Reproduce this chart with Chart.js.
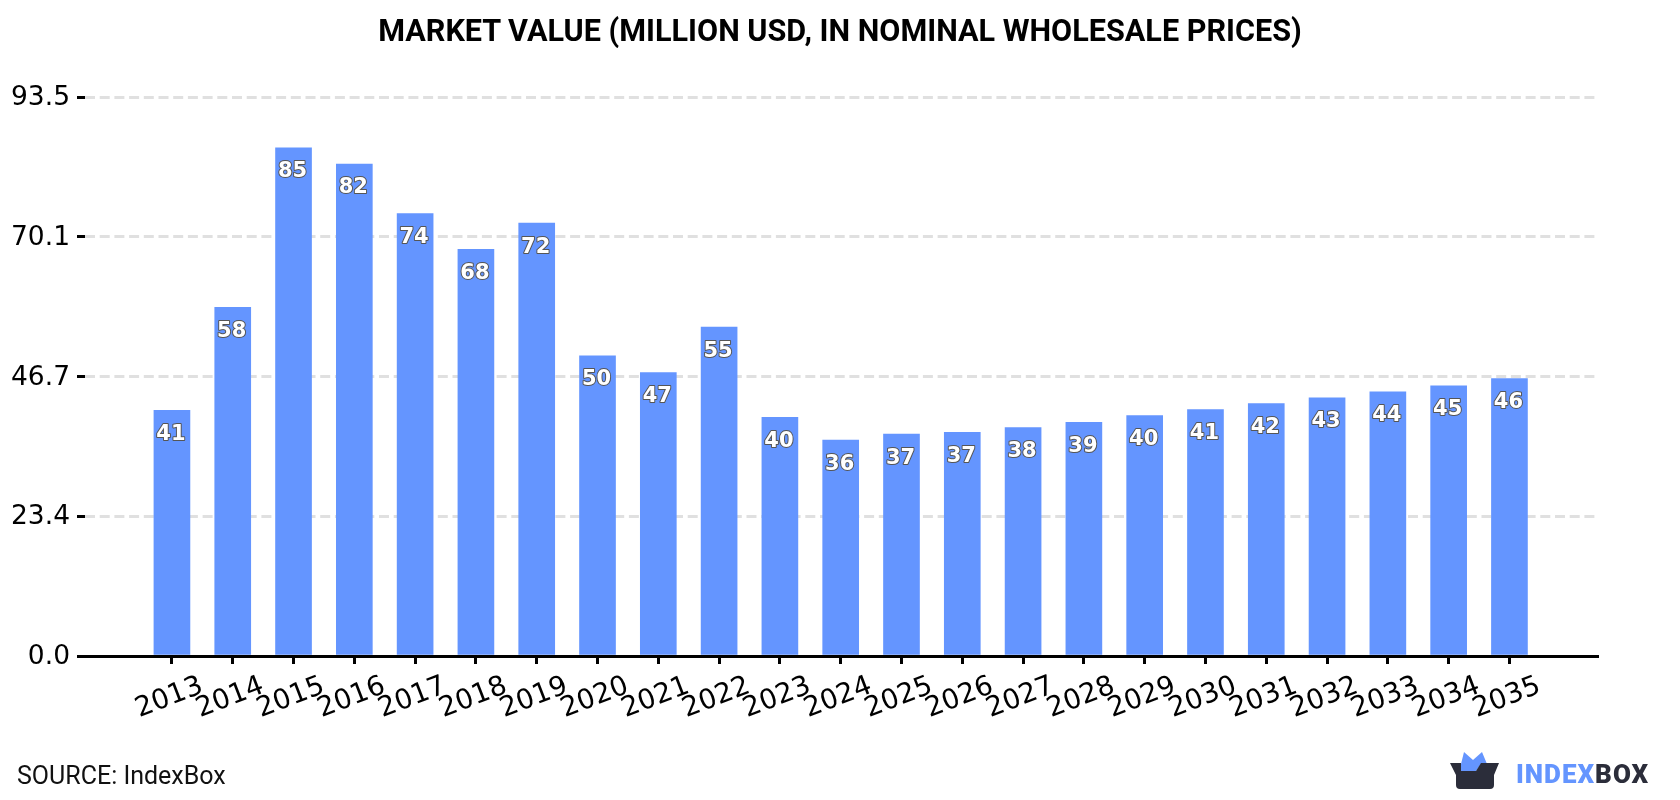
<!DOCTYPE html>
<html>
<head>
<meta charset="utf-8">
<title>Market Value</title>
<script src="https://cdn.jsdelivr.net/npm/chart.js@4"></script>
<style>
  html, body { margin: 0; padding: 0; background: #fff; }
  #wrap { position: relative; width: 1680px; height: 800px; overflow: hidden; }
  #title { position: absolute; left: 0; width: 1680px; top: 13px; text-align: center; font: bold 30.6px Roboto, sans-serif; color: #000; }
  #source { position: absolute; left: 17px; top: 761px; font: 25px Roboto, sans-serif; color: #111; }
  #logo { position: absolute; left: 1450px; top: 752px; }
  #brand { position: absolute; left: 1516px; top: 759px; font: 900 26px Roboto, sans-serif; letter-spacing: 1px; color: #6495ff; }
  #brand span { color: #2b2d3a; }
</style>
</head>
<body>
<div id="wrap">
  <canvas id="marketValue" width="1680" height="800"></canvas>
  <div id="title"></div>
  <div id="source">SOURCE: IndexBox</div>
  <svg id="logo" width="52" height="40" viewBox="0 0 52 40">
    <path d="M11 12 L14 0 L23 8 L32 0 L37 12 L31 12 L26 19 L11 19 Z" fill="#6495ff"/>
    <path d="M0 11 L11 11 L11 19 L26 19 L31 11 L49 11 L44 23 L44 33 Q44 37 40 37 L10 37 Q6 37 6 33 L6 23 Z" fill="#2b2d3a"/>
  </svg>
  <div id="brand">INDEX<span>BOX</span></div>
</div>
<script>
const titleText = 'MARKET VALUE (MILLION USD, IN NOMINAL WHOLESALE PRICES)'
const years = [2013, 2014, 2015, 2016, 2017, 2018, 2019, 2020, 2021, 2022, 2023, 2024,
  2025, 2026, 2027, 2028, 2029, 2030, 2031, 2032, 2033, 2034, 2035]
const marketValues = [41.1, 58.3, 85.0, 82.3, 74.0, 68.0, 72.4, 50.2, 47.4, 55.0, 39.9, 36.1,
  37.1, 37.4, 38.2, 39.1, 40.2, 41.2, 42.2, 43.2, 44.2, 45.2, 46.4]
const yTicks = [0, 23.4, 46.7, 70.1, 93.5]

document.querySelector('#title').textContent = titleText

// value labels sit just inside the top of each bar
const barLabels = {
  id: 'barLabels',
  afterDatasetsDraw(chart) {
    const ctx = chart.ctx
    const meta = chart.getDatasetMeta(0)
    ctx.save()
    ctx.font = 'bold 21px "DejaVu Sans"'
    ctx.textAlign = 'center'
    ctx.textBaseline = 'middle'
    ctx.lineJoin = 'round'
    meta.data.forEach((bar, i) => {
      const text = String(Math.round(marketValues[i]))
      ctx.lineWidth = 2
      ctx.strokeStyle = '#555'
      ctx.strokeText(text, bar.x - 1, bar.y + 24)
      ctx.fillStyle = '#fff'
      ctx.fillText(text, bar.x - 1, bar.y + 24)
    })
    ctx.restore()
  }
}

new Chart('marketValue', {
  type: 'bar',
  data: {
    datasets: [{
      data: years.map((y, i) => ({ x: y, y: marketValues[i] })),
      backgroundColor: '#6495ff',
      barThickness: 36
    }]
  },
  plugins: [barLabels],
  options: {
    responsive: false,
    animation: false,
    layout: { padding: { left: 0, right: 83, top: 97, bottom: 0 } },
    plugins: {
      legend: { display: false },
      tooltip: { enabled: false }
    },
    scales: {
      x: {
        type: 'linear',
        min: 2011.57,
        max: 2036.44,
        offset: false,
        afterBuildTicks(scale) { scale.ticks = years.map(y => ({ value: y })) },
        afterFit(scale) { scale.height = 144 },
        grid: { display: true, offset: false, drawOnChartArea: false, color: '#000', lineWidth: 3, tickLength: 8 },
        border: { color: '#000', width: 3 },
        ticks: {
          autoSkip: false,
          minRotation: 21,
          maxRotation: 21,
          labelOffset: 30,
          padding: 6,
          color: '#000',
          font: { family: 'DejaVu Sans', size: 27.5 },
          callback: v => String(v)
        }
      },
      y: {
        min: 0,
        max: 93.5,
        afterBuildTicks(scale) { scale.ticks = yTicks.map(v => ({ value: v })) },
        afterFit(scale) { scale.width = 85 },
        grid: { color: '#e0e0e0', lineWidth: 3, tickColor: '#000', tickWidth: 3, tickLength: 8, tickBorderDash: [] },
        border: { display: false, dash: [10, 4.7] },
        ticks: {
          padding: 7,
          labelOffset: 1,
          color: '#000',
          font: { family: 'DejaVu Sans', size: 26.5 },
          callback: v => v.toFixed(1)
        }
      }
    }
  }
})
</script>
</body>
</html>
